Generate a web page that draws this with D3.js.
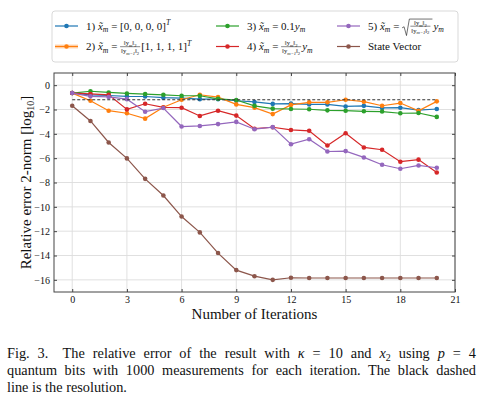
<!DOCTYPE html>
<html lang="en">
<head>
<meta charset="UTF-8">
<title>relative error</title>
<script src="https://d3js.org/d3.v7.min.js"></script>
<style>
  body { margin: 0; background: #fff; }
  text { font-family: "Liberation Serif", "DejaVu Serif", serif; fill: #111; white-space: pre; }
</style>
</head>
<body>
<svg width="486" height="401"></svg>
<script>
// iteration index 0..20
const iterations = d3.range(0, 21);
const xTicks = [0, 3, 6, 9, 12, 15, 18, 21];
const yTicks = [0, -2, -4, -6, -8, -10, -12, -14, -16];
const resolution = -1.2;

const zeroInit = [-0.65, -0.8, -0.85, -0.92, -0.93, -1.03, -1.06, -1.15, -1.15, -1.28, -1.38, -1.54, -1.52, -1.58, -1.58, -1.75, -1.7, -1.87, -1.85, -2.05, -1.96];
const onesInit = [-0.65, -1.28, -2.1, -2.31, -2.75, -1.82, -1.2, -0.79, -0.98, -1.58, -1.85, -2.38, -1.62, -1.41, -1.41, -1.2, -1.36, -1.69, -1.47, -2.1, -1.33];
const tenthInit = [-0.65, -0.5, -0.6, -0.68, -0.73, -0.79, -0.87, -0.87, -1.12, -1.22, -1.7, -1.93, -1.96, -1.98, -2.07, -2.1, -2.15, -2.17, -2.31, -2.29, -2.61];
const ratioInit = [-0.65, -0.72, -0.8, -1.99, -1.53, -1.83, -1.85, -2.53, -2.1, -2.5, -3.58, -3.46, -3.68, -3.75, -4.96, -3.95, -5.12, -5.31, -6.29, -6.12, -7.18];
const sqrtInit = [-0.65, -0.92, -0.97, -1.15, -2.18, -1.88, -3.4, -3.35, -3.2, -3.02, -3.62, -3.45, -4.85, -4.44, -5.45, -5.42, -5.94, -6.54, -6.87, -6.6, -6.79];
const stateVector = [-1.69, -2.94, -4.71, -6.02, -7.7, -9.07, -10.8, -12.1, -13.8, -15.2, -15.7, -16.0, -15.83, -15.85, -15.85, -15.85, -15.85, -15.85, -15.85, -15.85, -15.85];

const series = [
  {values: zeroInit, color: "#1f77b4"},
  {values: onesInit, color: "#ff7f0e"},
  {values: tenthInit, color: "#2ca02c"},
  {values: ratioInit, color: "#d62728"},
  {values: sqrtInit, color: "#9467bd"},
  {values: stateVector, color: "#8c564b"}
];

const svg = d3.select("svg");
const pLeft = 54, pRight = 455, pTop = 73, pBottom = 292;

const x = d3.scaleLinear().domain([-1, 21]).range([pLeft, pRight]);
const y = d3.scaleLinear().domain([-17, 1]).range([pBottom, pTop]);

// grid
svg.append("g").selectAll("line").data(xTicks).join("line")
  .attr("x1", d => x(d)).attr("x2", d => x(d))
  .attr("y1", pTop).attr("y2", pBottom)
  .attr("stroke", "#dcdcdc").attr("stroke-width", 0.9);
svg.append("g").selectAll("line").data(yTicks).join("line")
  .attr("x1", pLeft).attr("x2", pRight)
  .attr("y1", d => y(d)).attr("y2", d => y(d))
  .attr("stroke", "#dcdcdc").attr("stroke-width", 0.9);

// axes, ticks pointing inward on all sides
const xAxis = svg.append("g").attr("transform", `translate(0,${pBottom})`)
  .call(d3.axisBottom(x).tickValues(xTicks).tickSizeInner(-3).tickSizeOuter(0).tickPadding(4));
const xTop = svg.append("g").attr("transform", `translate(0,${pTop})`)
  .call(d3.axisTop(x).tickValues(xTicks).tickSizeInner(-3).tickSizeOuter(0).tickFormat(""));
const yAxis = svg.append("g").attr("transform", `translate(${pLeft},0)`)
  .call(d3.axisLeft(y).tickValues(yTicks).tickSizeInner(-3).tickSizeOuter(0).tickPadding(4));
const yRight = svg.append("g").attr("transform", `translate(${pRight},0)`)
  .call(d3.axisRight(y).tickValues(yTicks).tickSizeInner(-3).tickSizeOuter(0).tickFormat(""));
[xAxis, xTop, yAxis, yRight].forEach(a => {
  a.select(".domain").remove();
  a.selectAll(".tick line").attr("stroke", "#444");
  a.selectAll("text").attr("font-size", 10).attr("fill", "#111");
});

svg.append("rect")
  .attr("x", pLeft).attr("y", pTop).attr("width", pRight - pLeft).attr("height", pBottom - pTop)
  .attr("fill", "none").attr("stroke", "#444").attr("stroke-width", 1);

// lines + markers
const line = d3.line().x((d, i) => x(iterations[i])).y(d => y(d));
series.forEach(s => {
  svg.append("path").attr("d", line(s.values))
    .attr("fill", "none").attr("stroke", s.color).attr("stroke-width", 1.2);
  svg.append("g").selectAll("circle").data(s.values).join("circle")
    .attr("cx", (d, i) => x(iterations[i])).attr("cy", d => y(d))
    .attr("r", 2.3).attr("fill", s.color);
});

// resolution
svg.append("line")
  .attr("x1", x(0)).attr("x2", x(20))
  .attr("y1", y(resolution)).attr("y2", y(resolution))
  .attr("stroke", "#333").attr("stroke-width", 1.2).attr("stroke-dasharray", "3,2");

// axis labels
svg.append("text").attr("x", (pLeft + pRight) / 2).attr("y", 319)
  .attr("text-anchor", "middle").attr("font-size", 15).text("Number of Iterations");
const yl = svg.append("text")
  .attr("transform", `translate(31,${(pTop + pBottom) / 2}) rotate(-90)`)
  .attr("text-anchor", "middle").attr("font-size", 15);
yl.append("tspan").text("Relative error 2-norm [log");
yl.append("tspan").attr("font-size", 10).attr("dy", 3).text("10");
yl.append("tspan").attr("dy", -3).text("]");

// ---- legend with small math renderer ----
const legend = svg.append("g");
legend.append("rect").attr("x", 52).attr("y", 11).attr("width", 406).attr("height", 51)
  .attr("rx", 3).attr("fill", "#fff").attr("stroke", "#d5d5d5").attr("stroke-width", 0.9);

function drawMath(g, pieces, x0, base, size) {
  let cx = x0;
  pieces.forEach(p => {
    if (p.frac) {
      const fs = size * 0.6;
      const gn = g.append("g"), gd = g.append("g");
      const wn = drawMath(gn, p.frac[0], 0, 0, fs);
      const wd = drawMath(gd, p.frac[1], 0, 0, fs);
      const w = Math.max(wn, wd) + 2;
      gn.attr("transform", `translate(${cx + (w - wn) / 2},${base - size * 0.42})`);
      gd.attr("transform", `translate(${cx + (w - wd) / 2},${base + size * 0.3})`);
      g.append("line").attr("x1", cx).attr("x2", cx + w)
        .attr("y1", base - size * 0.3).attr("y2", base - size * 0.3)
        .attr("stroke", "#111").attr("stroke-width", 0.5);
      cx += w + 1;
    } else if (p.sqrt) {
      const gi = g.append("g");
      const pad = size * 0.75;
      const w = drawMath(gi, p.sqrt, 0, 0, size);
      gi.attr("transform", `translate(${cx + pad},${base})`);
      const t = base - size * 0.95, b = base + size * 0.55;
      g.append("path")
        .attr("d", `M${cx},${base - size * 0.15} L${cx + size * 0.18},${base - size * 0.25} L${cx + size * 0.4},${b} L${cx + pad - 1},${t} L${cx + pad + w + 1},${t}`)
        .attr("fill", "none").attr("stroke", "#111").attr("stroke-width", 0.6);
      cx += pad + w + 2;
    } else {
      const fs = (p.sub || p.sup) ? size * 0.7 : size;
      const dy = p.sub ? size * 0.25 : p.sup ? -size * 0.4 : 0;
      const t = g.append("text").attr("x", cx).attr("y", base + dy)
        .attr("font-size", fs).attr("font-style", p.it ? "italic" : null)
        .text(p.t);
      cx += t.node().getComputedTextLength();
    }
  });
  return cx - x0;
}

const xm = [{t: "x\u0303", it: true}, {t: "m", it: true, sub: true}];
const normFrac = {frac: [
  [{t: "\u2016y"}, {t: "m", it: true, sub: true}, {t: "\u2016"}, {t: "2", sub: true}],
  [{t: "\u2016y"}, {t: "m\u22121", it: true, sub: true}, {t: "\u2016"}, {t: "2", sub: true}]
]};
const ym = [{t: "y", it: true}, {t: "m", it: true, sub: true}];

const legendItems = [
  {color: "#1f77b4", col: 0, row: 0, label: [{t: "1) "}, ...xm, {t: " = [0, 0, 0, 0]"}, {t: "T", it: true, sup: true}]},
  {color: "#ff7f0e", col: 0, row: 1, label: [{t: "2) "}, ...xm, {t: " = "}, normFrac, {t: "[1, 1, 1, 1]"}, {t: "T", it: true, sup: true}]},
  {color: "#2ca02c", col: 1, row: 0, label: [{t: "3) "}, ...xm, {t: " = 0.1"}, ...ym]},
  {color: "#d62728", col: 1, row: 1, label: [{t: "4) "}, ...xm, {t: " = "}, normFrac, ...ym]},
  {color: "#9467bd", col: 2, row: 0, label: [{t: "5) "}, ...xm, {t: " = "}, {sqrt: [normFrac]}, ...ym]},
  {color: "#8c564b", col: 2, row: 1, label: [{t: "State Vector"}]}
];
const colX = [55, 216, 337];
const rowY = [26, 46.5];
legendItems.forEach(it => {
  const lx = colX[it.col], ly = rowY[it.row];
  if (it.color === "#ff7f0e") {
    legend.append("line").attr("x1", lx).attr("x2", lx + 23).attr("y1", ly).attr("y2", ly)
      .attr("stroke", it.color).attr("stroke-opacity", 0.3).attr("stroke-width", 4);
  }
  legend.append("line").attr("x1", lx).attr("x2", lx + 23).attr("y1", ly).attr("y2", ly)
    .attr("stroke", it.color).attr("stroke-width", 1.2);
  legend.append("circle").attr("cx", lx + 11.5).attr("cy", ly).attr("r", 2.3).attr("fill", it.color);
  drawMath(legend.append("g"), it.label, lx + 31, ly + 3.5, 11);
});

// ---- caption, justified by widening the word gaps ----
const capLines = [
  [{t: "Fig. 3.\u2003The relative error of the result with "}, {t: "\u03ba", it: true}, {t: " = 10 and "}, {t: "x", it: true}, {t: "2", sub: true}, {t: " using "}, {t: "p", it: true}, {t: " = 4"}],
  [{t: "quantum bits with 1000 measurements for each iteration. The black dashed"}],
  [{t: "line is the resolution."}]
];
const capY = [358, 375, 391.5];
const capWidth = 469;
capLines.forEach((pieces, li) => {
  const t = svg.append("text").attr("x", 7).attr("y", capY[li]).attr("font-size", 14.3);
  pieces.forEach(p => {
    const ts = t.append("tspan").text(p.t);
    if (p.it) ts.attr("font-style", "italic");
    if (p.sub) ts.attr("font-size", 10).attr("baseline-shift", "-3");
  });
  if (li < 2) {
    const natural = t.node().getComputedTextLength();
    const gaps = pieces.map(p => p.t).join("").split(" ").length - 1;
    t.attr("word-spacing", (capWidth - natural) / gaps);
  }
});
</script>
</body>
</html>
